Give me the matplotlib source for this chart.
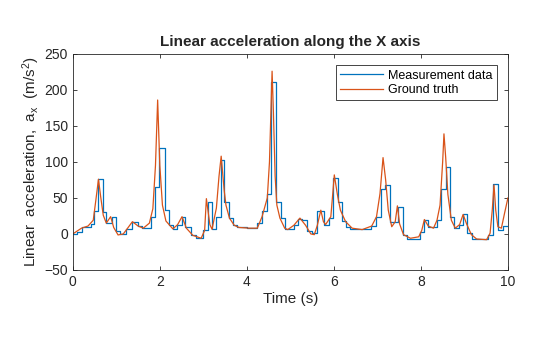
import matplotlib
matplotlib.use('Agg')
import matplotlib.pyplot as plt

plt.rcParams['font.family'] = ['Liberation Sans', 'DejaVu Sans']
plt.rcParams['mathtext.fontset'] = 'custom'
plt.rcParams['mathtext.rm'] = 'Liberation Sans'
plt.rcParams['mathtext.it'] = 'Liberation Sans:italic'

# ground truth (time, value)
truth_t = [0.00, 0.20, 0.35, 0.47, 0.53, 0.59, 0.64, 0.70, 0.77, 0.87, 0.94, 1.04,
           1.16, 1.27, 1.37, 1.50, 1.62, 1.76, 1.84, 1.90, 1.95, 2.00, 2.06, 2.14,
           2.30, 2.41, 2.51, 2.61, 2.76, 2.95, 3.03, 3.07, 3.15, 3.20, 3.30, 3.36,
           3.41, 3.48, 3.52, 3.60, 3.71, 3.82, 4.05, 4.24, 4.35, 4.47, 4.52, 4.58,
           4.61, 4.65, 4.69, 4.76, 4.87, 4.94, 5.08, 5.22, 5.35, 5.47, 5.55, 5.62,
           5.70, 5.76, 5.81, 5.93, 5.98, 6.01, 6.08, 6.15, 6.27, 6.42, 6.65, 6.87,
           6.98, 7.06, 7.13, 7.19, 7.25, 7.33, 7.41, 7.46, 7.51, 7.60, 7.76, 7.95,
           8.02, 8.08, 8.17, 8.29, 8.37, 8.44, 8.50, 8.53, 8.57, 8.62, 8.70, 8.79,
           8.89, 8.97, 9.05, 9.16, 9.28, 9.51, 9.59, 9.64, 9.68, 9.72, 9.77, 9.85,
           9.92, 10.00]
truth_v = [0, 8, 11, 19, 47, 76, 52, 26, 15, 24, 9, -1.4,
           0, 8.8, 17, 11, 8, 15, 35, 95, 186, 95, 40, 18,
           7, 13, 24, 8, -2, -6, 5, 49, 13, 6.5, 36, 80,
           108, 60, 40, 22, 12, 9, 8, 8, 24, 50, 100, 226,
           170, 80, 40, 22, 8, 6, 12, 22, 12, 0, -1, 12,
           33, 17, 13, 24, 60, 82, 55, 33, 17, 8, 6, 11,
           24, 56, 106, 75, 33, 10, 17, 39, 14, -1, -6, -4,
           5, 20, 11, 8, 19, 40, 100, 139, 106, 55, 19, 8,
           13, 27, 14, -1, -7, -8, 1, 33, 68, 33, 10, 8,
           28, 50]

# measurement data, held constant from each time until the next
meas_t = [0.00, 0.10, 0.20, 0.41, 0.49, 0.59, 0.70, 0.77, 0.89, 1.00, 1.09, 1.23,
          1.37, 1.50, 1.58, 1.80, 1.89, 1.99, 2.11, 2.21, 2.30, 2.40, 2.50, 2.59,
          2.71, 2.82, 3.00, 3.10, 3.20, 3.30, 3.40, 3.48, 3.59, 3.68, 3.78, 4.00,
          4.24, 4.35, 4.47, 4.55, 4.67, 4.78, 4.87, 5.08, 5.18, 5.27, 5.39, 5.49,
          5.62, 5.77, 5.88, 5.98, 6.09, 6.19, 6.28, 6.38, 6.86, 6.97, 7.08, 7.18,
          7.28, 7.47, 7.58, 7.69, 7.98, 8.08, 8.17, 8.38, 8.47, 8.58, 8.67, 8.76,
          8.87, 8.96, 9.06, 9.18, 9.55, 9.66, 9.78, 9.89, 10.00]
meas_v = [0.5, 2.5, 9, 14, 32, 76, 30, 15, 24, 4, 0, 7,
          17, 11, 8, 24, 65, 119, 33, 12, 6.5, 12, 24, 10,
          -2, -5.5, 5.5, 44, 7, 24, 102, 44, 22, 13, 9, 8.5,
          15, 32, 56, 211, 45, 22, 7.5, 12.5, 21, 20, 4, 1,
          32, 13, 22, 78, 44, 18, 10, 7.5, 11, 23, 63, 68,
          16, 37, -1.5, -6.5, 3, 19.5, 9, 19.5, 63, 92.6, 24, 8,
          12.5, 27, 1, -7, -1.5, 69, 5.5, 11, 11]

fig = plt.figure(figsize=(5.6, 3.37), dpi=100)
ax = fig.add_axes([0.130, 0.199, 0.777, 0.641])

ax.plot(meas_t, meas_v, drawstyle='steps-post', color='#0072BD', lw=0.9,
        label='Measurement data')
ax.plot(truth_t, truth_v, color='#D95319', lw=0.9, label='Ground truth')

ax.set_xlim(0, 10)
ax.set_ylim(-50, 250)
ax.set_xticks([0, 2, 4, 6, 8, 10])
ax.set_yticks([-50, 0, 50, 100, 150, 200, 250])
ax.tick_params(direction='in', length=3, width=0.6, top=True, right=True,
               labelsize=10, colors='#262626')
for s in ax.spines.values():
    s.set_linewidth(0.6)
    s.set_color('#262626')

ax.set_title('Linear acceleration along the X axis', fontsize=11, fontweight='bold',
             color='#262626', pad=6)
ax.set_xlabel('Time (s)', fontsize=11, color='#262626', labelpad=2)
ax.set_ylabel(r'Linear  acceleration,  a$_{\mathrm{x}}$  (m/s$^{\mathrm{2}}$)',
              fontsize=11, color='#262626', labelpad=2)

leg = ax.legend(loc='upper right', fontsize=9, fancybox=False, framealpha=1,
                edgecolor='#262626', borderpad=0.35, handlelength=3.4,
                handletextpad=0.4, labelspacing=0.2, borderaxespad=0.9)
leg.get_frame().set_linewidth(0.6)

fig.savefig('out.png', dpi=100)
